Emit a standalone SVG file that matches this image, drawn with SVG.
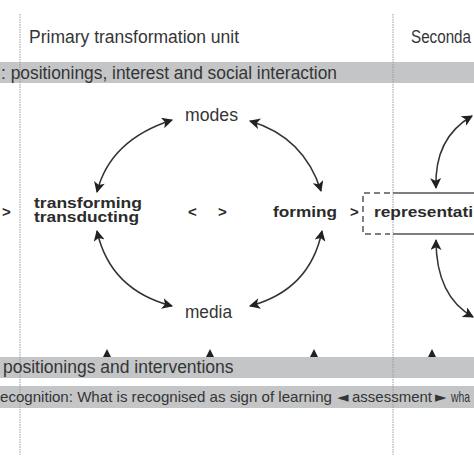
<svg xmlns="http://www.w3.org/2000/svg" width="474" height="474" viewBox="0 0 474 474">
<style>
.t{font-family:"Liberation Sans",Arial,sans-serif;font-size:17.5px;fill:#353535}
.b{font-family:"Liberation Sans",Arial,sans-serif;font-size:15px;font-weight:bold;fill:#2b2b2b}
.s{font-family:"Liberation Sans","DejaVu Sans",sans-serif;font-size:15px;fill:#353535}
.band{fill:#c3c5c7}
.vl{stroke:#9a9a9a;stroke-width:1;stroke-dasharray:1.5,1}
.arc{fill:none;stroke:#333;stroke-width:1.5;marker-start:url(#ah);marker-end:url(#ah)}
.box{fill:none;stroke:#555;stroke-width:1.5}
.tri{fill:#222}
</style>
<defs>
<marker id="ah" viewBox="0 0 10 10" refX="9" refY="5" markerWidth="13" markerHeight="11" markerUnits="userSpaceOnUse" orient="auto-start-reverse">
<path d="M0,0 L10,5 L0,10 L2.5,5 z" fill="#222"/>
</marker>
</defs>
<rect width="474" height="474" fill="#fff"/>
<g id="bands">
<rect class="band" x="0" y="62" width="474" height="21"/>
<rect class="band" x="0" y="357" width="474" height="21"/>
<rect class="band" x="0" y="386" width="474" height="22"/>
</g>
<g id="dividers">
<line class="vl" x1="20" y1="14" x2="20" y2="455"/>
<line class="vl" x1="393" y1="14" x2="393" y2="455"/>
</g>
<g id="headings">
<text class="t" x="29" y="43">Primary transformation unit</text>
<text class="t" x="411" y="43" textLength="60" lengthAdjust="spacingAndGlyphs">Seconda</text>
</g>
<g id="band-top">
<text class="t" x="1" y="79" textLength="336" lengthAdjust="spacingAndGlyphs">: positionings, interest and social interaction</text>
</g>
<g id="node-modes"><text class="t" x="185" y="121" textLength="53" lengthAdjust="spacingAndGlyphs">modes</text></g>
<g id="node-media"><text class="t" x="185" y="318" textLength="47" lengthAdjust="spacingAndGlyphs">media</text></g>
<g id="node-transforming">
<text class="b" x="34" y="208" font-size="14.5" textLength="108" lengthAdjust="spacingAndGlyphs">transforming</text>
<text class="b" x="34" y="222" font-size="14.5" textLength="105" lengthAdjust="spacingAndGlyphs">transducting</text>
</g>
<g id="node-lr">
<text class="b" x="188" y="217">&lt;</text>
<text class="b" x="218" y="217">&gt;</text>
</g>
<g id="node-forming"><text class="b" x="273" y="217" textLength="64" lengthAdjust="spacingAndGlyphs">forming</text></g>
<g id="node-representation">
<path class="box" d="M390,193 H363 V234 H390" stroke-dasharray="6,4"/>
<path class="box" d="M393,193 H474 M393,234 H474"/>
<text class="b" x="374" y="217" textLength="99" lengthAdjust="spacingAndGlyphs">representati</text>
</g>
<g id="connectors">
<text class="b" x="2" y="217">&gt;</text>
<text class="b" x="350" y="217">&gt;</text>
<path class="arc" d="M97,192 Q110,140 172,120"/>
<path class="arc" d="M250,121 Q304,137 321,191"/>
<path class="arc" d="M97,231 Q110,290 172,306"/>
<path class="arc" d="M322,231 Q310,290 250,306"/>
<path class="arc" d="M436,188 Q434,138 472,116"/>
<path class="arc" d="M436,240 Q436,296 473,317"/>
<polygon class="tri" points="103,357 107,349 111,357"/>
<polygon class="tri" points="206,357 210,349 214,357"/>
<polygon class="tri" points="310,357 314,349 318,357"/>
<polygon class="tri" points="428,357 432,349 436,357"/>
</g>
<g id="band-bottom">
<text class="t" x="3" y="373">positionings and interventions</text>
<text class="s" y="402"><tspan x="0" textLength="332" lengthAdjust="spacingAndGlyphs">ecognition: What is recognised as sign of learning</tspan><tspan x="337" font-family="DejaVu Sans">◄</tspan><tspan x="352">assessment</tspan><tspan x="435" font-family="DejaVu Sans">►</tspan><tspan x="451" textLength="19" lengthAdjust="spacingAndGlyphs">wha</tspan></text>
</g>
</svg>
